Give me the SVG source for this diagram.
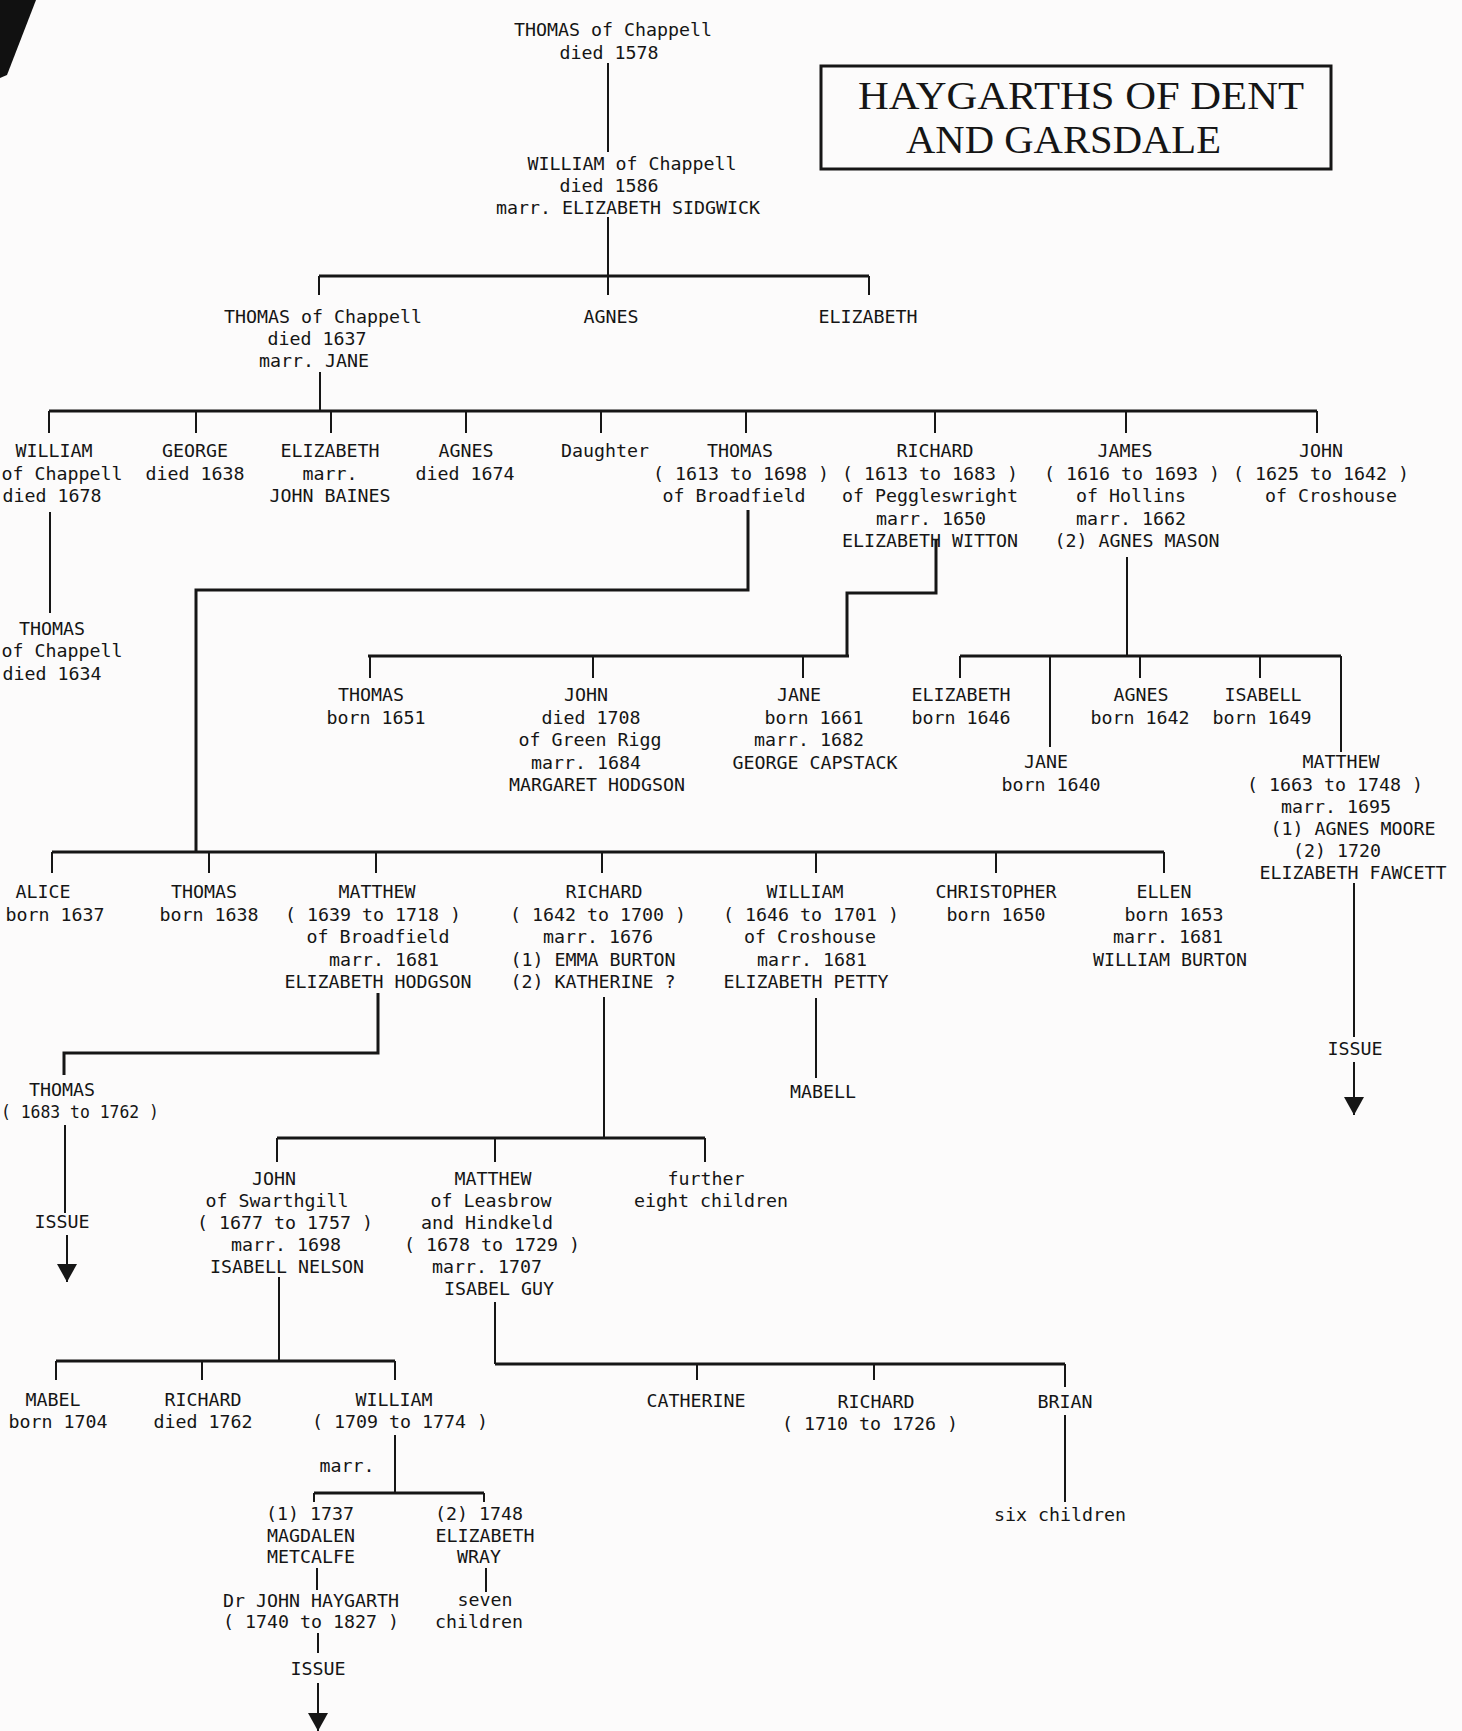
<svg xmlns="http://www.w3.org/2000/svg" width="1462" height="1731" viewBox="0 0 1462 1731">
<defs>
<style>
.t{font-family:"DejaVu Sans Mono","Liberation Mono",monospace;font-size:18.3px;fill:#151515;text-anchor:middle}
.c{fill:none;stroke:#161616;stroke-width:2}
.b{fill:none;stroke:#161616;stroke-width:3}
.title{font-family:"Liberation Serif",serif;font-size:39px;fill:#151515}
</style>
<marker id="arr" markerUnits="userSpaceOnUse" markerWidth="20" markerHeight="20" refX="18" refY="10" orient="auto">
<path d="M0,0 L18,10 L0,20 z" fill="#161616"/>
</marker>
</defs>
<rect x="0" y="0" width="1462" height="1731" fill="#fcfbfb"/>
<polygon points="0,0 36,0 7,75 0,78" fill="#111"/>

<g id="title">
<rect x="821" y="66" width="510" height="103" fill="none" stroke="#161616" stroke-width="3"/>
<text class="title" x="858" y="109" textLength="446" lengthAdjust="spacingAndGlyphs">HAYGARTHS OF DENT</text>
<text class="title" x="906" y="153" textLength="315" lengthAdjust="spacingAndGlyphs">AND GARSDALE</text>
</g>

<g id="connectors">
<path class="c" d="M608 63V152"/>
<path class="c" d="M608 217V276"/>
<path class="b" d="M319 276H869"/>
<path class="c" d="M319 276V295M608 276V295M869 276V295"/>
<path class="c" d="M320 372V411"/>
<path class="b" d="M49 411H1317"/>
<path class="c" d="M49 411V433M196 411V433M331 411V433M466 411V433M601 411V433M746 411V433M935 411V433M1126 411V433M1317 411V433"/>
<path class="c" d="M50 512V613"/>
<path class="b" d="M748 510V590H196V852"/>
<path class="b" d="M936 540V593H847V656"/>
<path class="b" d="M368 656H849"/>
<path class="c" d="M370 656V678M593 656V678M803 656V678"/>
<path class="c" d="M1127 557V656"/>
<path class="b" d="M960 656H1341"/>
<path class="c" d="M960 656V678M1050 656V747M1140 656V678M1260 656V678M1341 656V752"/>
<path class="b" d="M52 852H1164"/>
<path class="c" d="M52 852V873M209 852V873M376 852V873M602 852V873M816 852V873M996 852V873M1164 852V873"/>
<path class="b" d="M378 993V1053H64V1075"/>
<path class="c" d="M65 1125V1213"/>
<path class="c" d="M67 1235V1282" marker-end="url(#arr)"/>
<path class="c" d="M604 997V1138"/>
<path class="b" d="M277 1138H705"/>
<path class="c" d="M277 1138V1162M495 1138V1162M705 1138V1162"/>
<path class="c" d="M816 998V1078"/>
<path class="c" d="M1354 883V1037"/>
<path class="c" d="M1354 1062V1115" marker-end="url(#arr)"/>
<path class="c" d="M279 1277V1361"/>
<path class="b" d="M56 1361H395"/>
<path class="c" d="M56 1361V1380M202 1361V1380M395 1361V1380"/>
<path class="c" d="M495 1302V1364"/>
<path class="b" d="M495 1364H1065"/>
<path class="c" d="M697 1364V1380M874 1364V1380M1065 1364V1387"/>
<path class="c" d="M1065 1415V1502"/>
<path class="c" d="M395 1435V1493"/>
<path class="b" d="M314 1493H484"/>
<path class="c" d="M314 1493V1502M484 1493V1502"/>
<path class="c" d="M317 1568V1590"/>
<path class="c" d="M486 1568V1592"/>
<path class="c" d="M318 1633V1653"/>
<path class="c" d="M318 1683V1731" marker-end="url(#arr)"/>
</g>

<g id="thomas-1578"><text class="t"><tspan x="613" y="36">THOMAS of Chappell</tspan><tspan x="609" y="59">died 1578</tspan></text></g>
<g id="william-1586"><text class="t"><tspan x="632" y="170">WILLIAM of Chappell</tspan><tspan x="609" y="192">died 1586</tspan><tspan x="628" y="214">marr. ELIZABETH SIDGWICK</tspan></text></g>
<g id="thomas-1637"><text class="t"><tspan x="323" y="323">THOMAS of Chappell</tspan><tspan x="317" y="345">died 1637</tspan><tspan x="314" y="367">marr. JANE</tspan></text></g>
<g id="agnes-1"><text class="t" x="611" y="323">AGNES</text></g>
<g id="elizabeth-1"><text class="t" x="868" y="323">ELIZABETH</text></g>

<g id="william-1678"><text class="t"><tspan x="54" y="457">WILLIAM</tspan><tspan x="62" y="480">of Chappell</tspan><tspan x="52" y="502">died 1678</tspan></text></g>
<g id="george-1638"><text class="t"><tspan x="195" y="457">GEORGE</tspan><tspan x="195" y="480">died 1638</tspan></text></g>
<g id="elizabeth-baines"><text class="t"><tspan x="330" y="457">ELIZABETH</tspan><tspan x="330" y="480">marr.</tspan><tspan x="330" y="502">JOHN BAINES</tspan></text></g>
<g id="agnes-1674"><text class="t"><tspan x="466" y="457">AGNES</tspan><tspan x="465" y="480">died 1674</tspan></text></g>
<g id="daughter"><text class="t" x="605" y="457">Daughter</text></g>
<g id="thomas-1613"><text class="t"><tspan x="740" y="457">THOMAS</tspan><tspan x="741" y="480">( 1613 to 1698 )</tspan><tspan x="734" y="502">of Broadfield</tspan></text></g>
<g id="richard-1613"><text class="t"><tspan x="935" y="457">RICHARD</tspan><tspan x="930" y="480">( 1613 to 1683 )</tspan><tspan x="930" y="502">of Peggleswright</tspan><tspan x="931" y="525">marr. 1650</tspan><tspan x="930" y="547">ELIZABETH WITTON</tspan></text></g>
<g id="james-1616"><text class="t"><tspan x="1125" y="457">JAMES</tspan><tspan x="1132" y="480">( 1616 to 1693 )</tspan><tspan x="1131" y="502">of Hollins</tspan><tspan x="1131" y="525">marr. 1662</tspan><tspan x="1137" y="547">(2) AGNES MASON</tspan></text></g>
<g id="john-1625"><text class="t"><tspan x="1321" y="457">JOHN</tspan><tspan x="1321" y="480">( 1625 to 1642 )</tspan><tspan x="1331" y="502">of Croshouse</tspan></text></g>

<g id="thomas-1634"><text class="t"><tspan x="52" y="635">THOMAS</tspan><tspan x="62" y="657">of Chappell</tspan><tspan x="52" y="680">died 1634</tspan></text></g>

<g id="thomas-1651"><text class="t"><tspan x="371" y="701">THOMAS</tspan><tspan x="376" y="724">born 1651</tspan></text></g>
<g id="john-1708"><text class="t"><tspan x="586" y="701">JOHN</tspan><tspan x="591" y="724">died 1708</tspan><tspan x="590" y="746">of Green Rigg</tspan><tspan x="586" y="769">marr. 1684</tspan><tspan x="597" y="791">MARGARET HODGSON</tspan></text></g>
<g id="jane-1661"><text class="t"><tspan x="799" y="701">JANE</tspan><tspan x="814" y="724">born 1661</tspan><tspan x="809" y="746">marr. 1682</tspan><tspan x="815" y="769">GEORGE CAPSTACK</tspan></text></g>

<g id="elizabeth-1646"><text class="t"><tspan x="961" y="701">ELIZABETH</tspan><tspan x="961" y="724">born 1646</tspan></text></g>
<g id="agnes-1642"><text class="t"><tspan x="1141" y="701">AGNES</tspan><tspan x="1140" y="724">born 1642</tspan></text></g>
<g id="isabell-1649"><text class="t"><tspan x="1263" y="701">ISABELL</tspan><tspan x="1262" y="724">born 1649</tspan></text></g>
<g id="jane-1640"><text class="t"><tspan x="1046" y="768">JANE</tspan><tspan x="1051" y="791">born 1640</tspan></text></g>
<g id="matthew-1663"><text class="t"><tspan x="1341" y="768">MATTHEW</tspan><tspan x="1335" y="791">( 1663 to 1748 )</tspan><tspan x="1336" y="813">marr. 1695</tspan><tspan x="1353" y="835">(1) AGNES MOORE</tspan><tspan x="1337" y="857">(2) 1720</tspan><tspan x="1353" y="879">ELIZABETH FAWCETT</tspan></text></g>
<g id="issue-matthew"><text class="t" x="1355" y="1055">ISSUE</text></g>

<g id="alice-1637"><text class="t"><tspan x="43" y="898">ALICE</tspan><tspan x="55" y="921">born 1637</tspan></text></g>
<g id="thomas-1638"><text class="t"><tspan x="204" y="898">THOMAS</tspan><tspan x="209" y="921">born 1638</tspan></text></g>
<g id="matthew-1639"><text class="t"><tspan x="377" y="898">MATTHEW</tspan><tspan x="373" y="921">( 1639 to 1718 )</tspan><tspan x="378" y="943">of Broadfield</tspan><tspan x="384" y="966">marr. 1681</tspan><tspan x="378" y="988">ELIZABETH HODGSON</tspan></text></g>
<g id="richard-1642"><text class="t"><tspan x="604" y="898">RICHARD</tspan><tspan x="598" y="921">( 1642 to 1700 )</tspan><tspan x="598" y="943">marr. 1676</tspan><tspan x="593" y="966">(1) EMMA BURTON</tspan><tspan x="593" y="988">(2) KATHERINE ?</tspan></text></g>
<g id="william-1646"><text class="t"><tspan x="805" y="898">WILLIAM</tspan><tspan x="811" y="921">( 1646 to 1701 )</tspan><tspan x="810" y="943">of Croshouse</tspan><tspan x="812" y="966">marr. 1681</tspan><tspan x="806" y="988">ELIZABETH PETTY</tspan></text></g>
<g id="christopher-1650"><text class="t"><tspan x="996" y="898">CHRISTOPHER</tspan><tspan x="996" y="921">born 1650</tspan></text></g>
<g id="ellen-1653"><text class="t"><tspan x="1164" y="898">ELLEN</tspan><tspan x="1174" y="921">born 1653</tspan><tspan x="1168" y="943">marr. 1681</tspan><tspan x="1170" y="966">WILLIAM BURTON</tspan></text></g>
<g id="mabell"><text class="t" x="823" y="1098">MABELL</text></g>

<g id="thomas-1683"><text class="t"><tspan x="62" y="1096">THOMAS</tspan><tspan x="80" y="1118" textLength="158" lengthAdjust="spacingAndGlyphs">( 1683 to 1762 )</tspan></text></g>
<g id="issue-thomas"><text class="t" x="62" y="1228">ISSUE</text></g>

<g id="john-1677"><text class="t"><tspan x="274" y="1185">JOHN</tspan><tspan x="277" y="1207">of Swarthgill</tspan><tspan x="285" y="1229">( 1677 to 1757 )</tspan><tspan x="286" y="1251">marr. 1698</tspan><tspan x="287" y="1273">ISABELL NELSON</tspan></text></g>
<g id="matthew-1678"><text class="t"><tspan x="493" y="1185">MATTHEW</tspan><tspan x="491" y="1207">of Leasbrow</tspan><tspan x="487" y="1229">and Hindkeld</tspan><tspan x="492" y="1251">( 1678 to 1729 )</tspan><tspan x="487" y="1273">marr. 1707</tspan><tspan x="499" y="1295">ISABEL GUY</tspan></text></g>
<g id="further-eight"><text class="t"><tspan x="706" y="1185">further</tspan><tspan x="711" y="1207">eight children</tspan></text></g>

<g id="mabel-1704"><text class="t"><tspan x="53" y="1406">MABEL</tspan><tspan x="58" y="1428">born 1704</tspan></text></g>
<g id="richard-1762"><text class="t"><tspan x="203" y="1406">RICHARD</tspan><tspan x="203" y="1428">died 1762</tspan></text></g>
<g id="william-1709"><text class="t"><tspan x="394" y="1406">WILLIAM</tspan><tspan x="400" y="1428">( 1709 to 1774 )</tspan></text></g>
<g id="catherine"><text class="t" x="696" y="1407">CATHERINE</text></g>
<g id="richard-1710"><text class="t"><tspan x="876" y="1408">RICHARD</tspan><tspan x="870" y="1430">( 1710 to 1726 )</tspan></text></g>
<g id="brian"><text class="t" x="1065" y="1408">BRIAN</text></g>
<g id="six-children"><text class="t" x="1060" y="1521">six children</text></g>
<g id="marr-label"><text class="t" x="347" y="1472">marr.</text></g>
<g id="magdalen"><text class="t"><tspan x="310" y="1520">(1) 1737</tspan><tspan x="311" y="1542">MAGDALEN</tspan><tspan x="311" y="1563">METCALFE</tspan></text></g>
<g id="elizabeth-wray"><text class="t"><tspan x="479" y="1520">(2) 1748</tspan><tspan x="485" y="1542">ELIZABETH</tspan><tspan x="479" y="1563">WRAY</tspan></text></g>
<g id="dr-john"><text class="t"><tspan x="311" y="1607">Dr JOHN HAYGARTH</tspan><tspan x="311" y="1628">( 1740 to 1827 )</tspan></text></g>
<g id="seven-children"><text class="t"><tspan x="485" y="1606">seven</tspan><tspan x="479" y="1628">children</tspan></text></g>
<g id="issue-john"><text class="t" x="318" y="1675">ISSUE</text></g>
</svg>
